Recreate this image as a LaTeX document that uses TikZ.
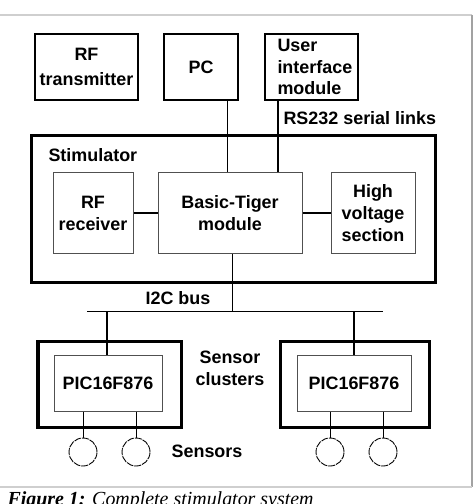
\documentclass[tikz,border=0pt]{standalone}
\usepackage{fontspec}
\setmainfont{Liberation Sans}
\newfontfamily\captionserif{Liberation Serif}
\usepackage{xcolor}
\usepackage{tikz}
\usetikzlibrary{positioning}
\definecolor{frameGray}{HTML}{CFCFCF}
\definecolor{edgeGray}{HTML}{A2A2A2}
\definecolor{innerGray}{HTML}{505050}

\begin{document}
\begin{tikzpicture}[x=1bp, y=-1bp,
        every node/.style={font=\fontsize{18}{22}\selectfont\bfseries},
        topbox/.style={rectangle, draw=black, line width=2bp, align=center, inner sep=0pt},
        outerbox/.style={rectangle, draw=black, line width=3bp, inner sep=0pt},
        innerbox/.style={rectangle, draw=innerGray, line width=1bp, align=center, inner sep=0pt},
        sensor/.style={circle, draw=black, line width=0.9bp, dash pattern=on 7bp off 1bp,
                       minimum size=28bp, inner sep=0pt},
        wire/.style={draw=black, line width=1bp},
        fatwire/.style={draw=black, line width=2bp},
      ]
        \useasboundingbox (0,0) rectangle (474,504);

        % Page frame
        \draw[frameGray, line width=1.5bp] (0,15) -- (472,15);
        \draw[edgeGray, line width=2.5bp] (472,15) -- (472,487);
        \draw[frameGray, line width=1.5bp] (0,487) -- (472,487);

        % Top row
        \node[topbox, minimum width=103bp, minimum height=66bp] (rftx) at (86.5,67) {RF\\[3bp]transmitter};
        \node[topbox, minimum width=74bp, minimum height=66bp] (pc) at (201,67) {PC};
        \node[topbox, minimum width=93bp, minimum height=66bp, align=left, text width=68bp] (ui) at (311.5,67) {User\\interface\\module};

        % Stimulator
        \node[outerbox, minimum width=403bp, minimum height=146bp] (stim) at (233.5,209) {};
        \node[anchor=west] (stimlbl) at (45,155) {Stimulator};
        \node[innerbox, minimum width=80bp, minimum height=80bp] (rfrx) at (93,213) {RF\\receiver};
        \node[innerbox, minimum width=144bp, minimum height=80bp] (bt) at (230,213) {Basic-Tiger\\module};
        \node[innerbox, minimum width=84bp, minimum height=80bp] (hv) at (373,213) {High\\voltage\\section};

        \draw[wire] ([xshift=-3bp]pc.south -| bt.north) -- ([xshift=-3bp]bt.north);
        \coordinate (uilink) at ([xshift=-33.5bp]ui.south);
        \draw[fatwire] (uilink) -- (uilink |- bt.north);
        \node[anchor=west] (rs) at (280,118) {RS232 serial links};
        \draw[fatwire] (rfrx.east) -- (bt.west);
        \draw[fatwire] (bt.east) -- (hv.west);

        % I2C bus
        \coordinate (busl) at (87,311);
        \coordinate (busr) at (383,311);
        \draw[wire] (busl) -- (busr);
        \draw[wire] ([xshift=2bp]bt.south) -- ([xshift=2bp]bt.south |- busl);
        \node (i2c) at (178,298) {I2C bus};

        % Sensor clusters
        \node[outerbox, minimum width=143bp, minimum height=86bp] (clu1) at (109.5,384) {};
        \node[innerbox, minimum width=108bp, minimum height=56bp] (pic1) at (108,383) {PIC16F876};
        \node[outerbox, minimum width=149bp, minimum height=86bp] (clu2) at (354.5,384) {};
        \node[innerbox, minimum width=114bp, minimum height=56bp] (pic2) at (354,383) {PIC16F876};
        \node[align=center] (clulbl) at (230,368) {Sensor\\clusters};

        \draw[fatwire, line width=1.5bp] ([xshift=-1bp]pic1.north |- busl) -- ([xshift=-1bp]pic1.north);
        \draw[fatwire, line width=1.5bp] (pic2.north |- busl) -- (pic2.north);

        % Sensors
        \node[sensor] (s1) at (83,452) {};
        \node[sensor] (s2) at (136,452) {};
        \node[sensor] (s3) at (330,452) {};
        \node[sensor] (s4) at (383,452) {};
        \node (senslbl) at (207,451) {Sensors};

        \draw[wire] (s1.north |- pic1.south) -- (s1.north);
        \draw[wire] (s2.north |- pic1.south) -- (s2.north);
        \draw[wire] (s3.north |- pic2.south) -- (s3.north);
        \draw[wire] (s4.north |- pic2.south) -- (s4.north);

        % Caption, cut off by the page edge
        \node[anchor=base west, font=\captionserif\fontsize{20}{22}\selectfont\itshape] (cap) at (4,505)
          {\textbf{Figure 1:} Complete stimulator system};
      \end{tikzpicture}
\end{document}
